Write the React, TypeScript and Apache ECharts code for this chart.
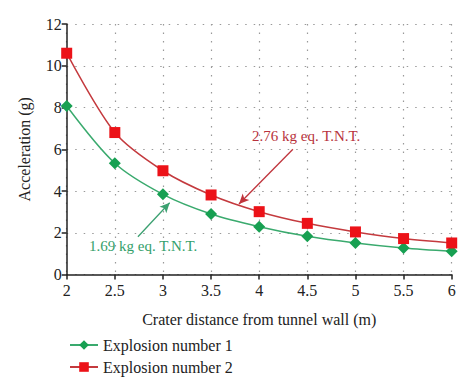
import React, { useEffect, useRef } from "react";
import * as echarts from "echarts";

const distances = [2, 2.5, 3, 3.5, 4, 4.5, 5, 5.5, 6];
const explosion1 = [8.07, 5.33, 3.84, 2.9, 2.29, 1.83, 1.51, 1.27, 1.11];
const explosion2 = [10.6, 6.8, 4.97, 3.81, 3.01, 2.45, 2.04, 1.72, 1.51];
const seriesNames = ["Explosion number 1", "Explosion number 2"];
const redNote = "2.76 kg eq. T.N.T.";
const greenNote = "1.69 kg eq. T.N.T.";
const redArrow = [[4.35, 6.0], [3.79, 3.38]];
const greenArrow = [[2.74, 1.81], [3.07, 3.44]];

const FONT = "Liberation Serif";

export default function App() {
  const ref = useRef<HTMLDivElement>(null);
  useEffect(() => {
    if (!ref.current) return;
    const chart = echarts.init(ref.current, undefined, { renderer: "svg" });
    const pairs = (ys: number[]) => distances.map((x, i) => [x, ys[i]]);
    chart.setOption({
      animation: false,
      textStyle: { fontFamily: FONT },
      grid: { left: 66.7, right: 22.3, top: 24, bottom: 116.5 },
      xAxis: {
        type: "value",
        min: 2,
        max: 6,
        interval: 0.5,
        name: "Crater distance from tunnel wall (m)",
        nameLocation: "middle",
        nameGap: 37,
        nameTextStyle: { fontFamily: FONT, fontSize: 16, color: "#222" },
        axisLine: { onZero: false, lineStyle: { color: "#222", width: 1.5 } },
        axisTick: { show: true, length: 5, lineStyle: { color: "#222", width: 1.5 } },
        axisLabel: { fontFamily: FONT, fontSize: 16, color: "#222", margin: 8 },
        splitLine: { show: true, lineStyle: { type: [1.5, 7], color: "#999", width: 1.2 } },
      },
      yAxis: {
        type: "value",
        min: 0,
        max: 12,
        interval: 2,
        name: "Acceleration (g)",
        nameLocation: "middle",
        nameGap: 34,
        nameTextStyle: { fontFamily: FONT, fontSize: 16, color: "#222" },
        axisLine: { show: true, lineStyle: { color: "#222", width: 1.5 } },
        axisTick: { show: true, length: 5, lineStyle: { color: "#222", width: 1.5 } },
        axisLabel: { fontFamily: FONT, fontSize: 16, color: "#222", margin: 5 },
        splitLine: { show: true, lineStyle: { type: [1.5, 7], color: "#999", width: 1.2 } },
      },
      legend: {
        orient: "vertical",
        left: 64,
        top: 332,
        itemWidth: 28,
        itemHeight: 12,
        itemGap: 6,
        textStyle: { fontFamily: FONT, fontSize: 16, color: "#222" },
        data: seriesNames,
      },
      series: [
        {
          name: seriesNames[0],
          type: "line",
          data: pairs(explosion1),
          smooth: 0.3,
          symbol: "diamond",
          symbolSize: 12,
          itemStyle: { color: "#17a052" },
          lineStyle: { color: "#3aaa6e", width: 1.5 },
          z: 3,
          markLine: {
            silent: true,
            symbol: ["none", "arrow"],
            symbolSize: [7, 10],
            label: { show: false },
            lineStyle: { color: "#3aa070", width: 1.3, type: "solid" },
            data: [[{ coord: greenArrow[0] }, { coord: greenArrow[1] }]],
          },
        },
        {
          name: seriesNames[1],
          type: "line",
          data: pairs(explosion2),
          smooth: 0.3,
          symbol: "rect",
          symbolSize: 11,
          itemStyle: { color: "#ec1218" },
          lineStyle: { color: "#c43a3e", width: 1.5 },
          z: 4,
          markLine: {
            silent: true,
            symbol: ["none", "arrow"],
            symbolSize: [7, 10],
            label: { show: false },
            lineStyle: { color: "#c0343c", width: 1.3, type: "solid" },
            data: [[{ coord: redArrow[0] }, { coord: redArrow[1] }]],
          },
        },
      ],
      graphic: [
        {
          type: "text",
          left: 252,
          top: 128,
          style: { text: redNote, fontFamily: FONT, fontSize: 15, fill: "#b8323c" },
        },
        {
          type: "text",
          left: 89,
          top: 238,
          style: { text: greenNote, fontFamily: FONT, fontSize: 15, fill: "#34a06a" },
        },
      ],
    });
    return () => chart.dispose();
  }, []);
  return <div ref={ref} style={{ width: 474, height: 391, position: "absolute", left: 0, top: 0 }} />;
}
